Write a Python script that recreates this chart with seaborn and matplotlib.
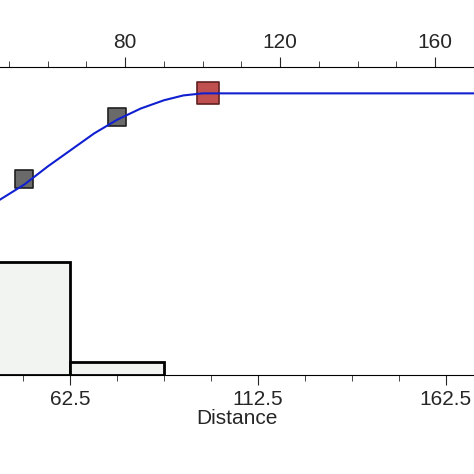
import matplotlib
matplotlib.use("Agg")
import matplotlib.pyplot as plt
import seaborn as sns
from matplotlib.ticker import MultipleLocator

sns.set_style("white")
plt.rcParams['font.family'] = ['Liberation Sans', 'DejaVu Sans']

# variogram points
lag_dist = [53.9, 77.9]
lag_gamma = [0.37, 0.82]
pick_dist = [101.4]
pick_gamma = [0.993]

# model curve
model_dist = [40, 47.7, 54, 60, 66, 72, 78, 84, 90, 95, 100, 175]
model_gamma = [0.12, 0.22, 0.33, 0.46, 0.58, 0.70, 0.80, 0.88, 0.94, 0.975, 0.99, 0.99]

# histogram of pair counts
bin_edges = [37.5, 62.5, 87.5]
bin_counts = [84, 10]

fig = plt.figure(figsize=(4.74, 4.74), dpi=100)
top = fig.add_axes([0, 1 - 230 / 474, 1, 163 / 474])
bot = fig.add_axes([0, 1 - 375 / 474, 1, 135 / 474])

sns.lineplot(x=model_dist, y=model_gamma, ax=top, color="#1020d0", lw=1.5)
sns.scatterplot(x=lag_dist, y=lag_gamma, ax=top, marker="s", s=170,
                color="#6a6a6a", edgecolor="#202020", linewidth=1.2)
sns.scatterplot(x=pick_dist, y=pick_gamma, ax=top, marker="s", s=260,
                color="#c05050", edgecolor="#602020", linewidth=1.2)
top.xaxis.tick_top()
top.set_xticks([40, 80, 120, 160])
top.xaxis.set_minor_locator(MultipleLocator(10))
top.set_xlim(47.7, 170)
top.set_ylim(0, 1.181)
top.tick_params(axis="x", which="major", length=7, labelsize=15, top=True, direction="out")
top.tick_params(axis="x", which="minor", length=4, top=True, direction="out")
top.set_yticks([])
for s in ["left", "right", "bottom"]:
    top.spines[s].set_visible(False)
top.spines["top"].set_color("black")

centers = [(bin_edges[i] + bin_edges[i + 1]) / 2 for i in range(len(bin_counts))]
sns.histplot(x=centers, weights=bin_counts, bins=bin_edges, ax=bot,
             color="#f2f4f2", edgecolor="black", linewidth=2, alpha=1)
bot.set_xticks([62.5, 112.5, 162.5])
bot.set_xticklabels(["62.5", "112.5", "162.5"])
bot.xaxis.set_minor_locator(MultipleLocator(12.5))
bot.set_xlim(43.9, 170)
bot.set_ylim(0, 100)
bot.tick_params(axis="x", which="major", length=7, labelsize=15, bottom=True, direction="out")
bot.tick_params(axis="x", which="minor", length=4, bottom=True, direction="out")
bot.set_yticks([])
bot.set_ylabel("")
bot.set_xlabel("Distance", fontsize=15, labelpad=0)
for s in ["left", "right", "top"]:
    bot.spines[s].set_visible(False)
bot.spines["bottom"].set_color("black")

fig.savefig("out.png", dpi=100, facecolor="white")
